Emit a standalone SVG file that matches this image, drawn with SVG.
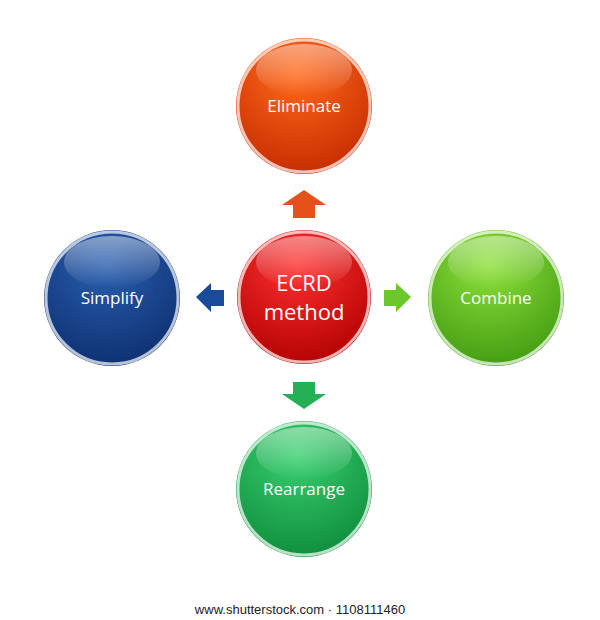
<svg xmlns="http://www.w3.org/2000/svg" width="600" height="620" viewBox="0 0 600 620">
<style>
.lbl{font-family:"Open Sans","Liberation Sans",sans-serif;fill:#fff;text-anchor:middle}
.rim{fill:none;stroke:#fff;stroke-width:3;stroke-opacity:0.7}
</style>
<defs>
<radialGradient id="gO" cx="0.45" cy="0.25" r="0.8"><stop offset="0" stop-color="#ff6a1a"/><stop offset="1" stop-color="#c42a00"/></radialGradient>
<radialGradient id="gR" cx="0.45" cy="0.25" r="0.8"><stop offset="0" stop-color="#ff3030"/><stop offset="1" stop-color="#b00000"/></radialGradient>
<radialGradient id="gB" cx="0.45" cy="0.25" r="0.8"><stop offset="0" stop-color="#2a5fb0"/><stop offset="1" stop-color="#0c2e6e"/></radialGradient>
<radialGradient id="gG" cx="0.45" cy="0.25" r="0.8"><stop offset="0" stop-color="#8ee03a"/><stop offset="1" stop-color="#3f9a10"/></radialGradient>
<radialGradient id="gD" cx="0.45" cy="0.25" r="0.8"><stop offset="0" stop-color="#38d070"/><stop offset="1" stop-color="#0e8a3a"/></radialGradient>
<linearGradient id="shine" x1="0" y1="0" x2="0" y2="1"><stop offset="0" stop-color="#fff" stop-opacity="0.45"/><stop offset="1" stop-color="#fff" stop-opacity="0"/></linearGradient>
</defs>
<g id="connectors">
<path d="M304 190 L326 205 L315 205 L315 218 L293 218 L293 205 L282 205 Z" fill="#e2521a"/>
<path d="M196 297 L211 283 L211 290 L224 290 L224 306 L211 306 L211 312 Z" fill="#1a4a9a"/>
<path d="M411 297 L396 283 L396 290 L384 290 L384 306 L396 306 L396 312 Z" fill="#6cc72a"/>
<path d="M304 409 L326 394 L315 394 L315 382 L293 382 L293 394 L282 394 Z" fill="#25b055"/>
</g>
<g id="eliminate"><circle cx="304" cy="106" r="68" fill="url(#gO)"/><circle class="rim" cx="304" cy="106" r="66"/><ellipse cx="304" cy="70" rx="48" ry="26" fill="url(#shine)"/><text class="lbl" x="304" y="112" font-size="17">Eliminate</text></g>
<g id="ecrd"><circle cx="304" cy="297" r="67" fill="url(#gR)"/><circle class="rim" cx="304" cy="297" r="65"/><ellipse cx="304" cy="262" rx="48" ry="26" fill="url(#shine)"/><text class="lbl" x="304" y="291" font-size="22">ECRD</text><text class="lbl" x="304" y="320" font-size="22">method</text></g>
<g id="simplify"><circle cx="112" cy="298" r="68" fill="url(#gB)"/><circle class="rim" cx="112" cy="298" r="66"/><ellipse cx="112" cy="262" rx="48" ry="26" fill="url(#shine)"/><text class="lbl" x="112" y="304" font-size="17">Simplify</text></g>
<g id="combine"><circle cx="496" cy="298" r="68" fill="url(#gG)"/><circle class="rim" cx="496" cy="298" r="66"/><ellipse cx="496" cy="262" rx="48" ry="26" fill="url(#shine)"/><text class="lbl" x="496" y="304" font-size="17">Combine</text></g>
<g id="rearrange"><circle cx="304" cy="489" r="68" fill="url(#gD)"/><circle class="rim" cx="304" cy="489" r="66"/><ellipse cx="304" cy="453" rx="48" ry="26" fill="url(#shine)"/><text class="lbl" x="304" y="495" font-size="17">Rearrange</text></g>
<text x="300" y="614" font-family="Liberation Sans,sans-serif" font-size="13" fill="#222" text-anchor="middle">www.shutterstock.com · 1108111460</text>
</svg>
